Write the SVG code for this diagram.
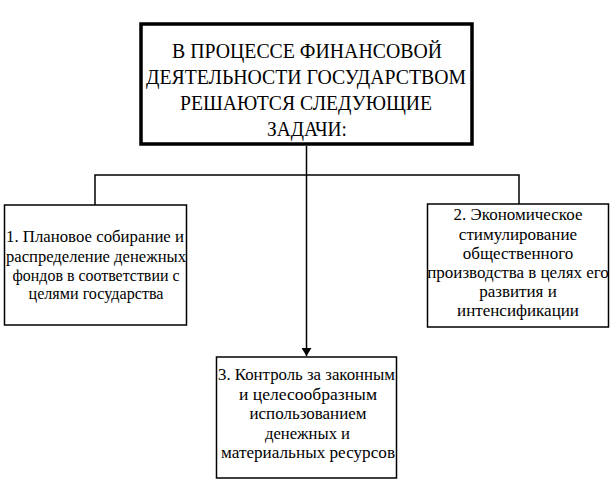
<svg xmlns="http://www.w3.org/2000/svg" width="614" height="484" viewBox="0 0 614 484">
<style>
.box{fill:#fff;stroke:#000;stroke-width:1.5}
.main{fill:#fff;stroke:#000;stroke-width:3.5}
.ln{fill:none;stroke:#000;stroke-width:1.5}
.t1{font-size:21px;fill:#000;text-anchor:middle}
.t2{font-size:17px;fill:#000;text-anchor:middle}
</style>
<defs>
<marker id="arr" markerWidth="8" markerHeight="10" refX="8" refY="5" orient="auto" markerUnits="userSpaceOnUse" viewBox="0 0 8 10">
<path d="M0,0 L8,5 L0,10 z" fill="#000"/>
</marker>
</defs>
<rect width="614" height="484" fill="#fff"/>
<g id="connectors">
<line class="ln" x1="306.5" y1="146" x2="306.5" y2="356" marker-end="url(#arr)"/>
<polyline class="ln" points="95,205 95,175 519,175 519,204"/>
</g>
<g id="top" font-family="'Liberation Serif', 'Times New Roman', Times, serif">
<rect class="main" x="141" y="24" width="331" height="120"/>
<text class="t1" x="307" y="58" textLength="270" lengthAdjust="spacingAndGlyphs">В ПРОЦЕССЕ ФИНАНСОВОЙ</text>
<text class="t1" x="306" y="84" textLength="320" lengthAdjust="spacingAndGlyphs">ДЕЯТЕЛЬНОСТИ ГОСУДАРСТВОМ</text>
<text class="t1" x="306" y="110" textLength="252" lengthAdjust="spacingAndGlyphs">РЕШАЮТСЯ СЛЕДУЮЩИЕ</text>
<text class="t1" x="307" y="136" textLength="80" lengthAdjust="spacingAndGlyphs">ЗАДАЧИ:</text>
</g>
<g id="n1" font-family="'Liberation Serif', 'Times New Roman', Times, serif">
<rect class="box" x="4.5" y="205" width="182" height="120"/>
<text class="t2" x="95" y="242" textLength="178" lengthAdjust="spacingAndGlyphs">1. Плановое собирание и</text>
<text class="t2" x="96" y="262" textLength="180" lengthAdjust="spacingAndGlyphs">распределение денежных</text>
<text class="t2" x="96" y="281" textLength="167" lengthAdjust="spacingAndGlyphs">фондов в соответствии с</text>
<text class="t2" x="96" y="299" textLength="135" lengthAdjust="spacingAndGlyphs">целями государства</text>
</g>
<g id="n2" font-family="'Liberation Serif', 'Times New Roman', Times, serif">
<rect class="box" x="427.5" y="204" width="181" height="123"/>
<text class="t2" x="518" y="220">2. Экономическое</text>
<text class="t2" x="518" y="240">стимулирование</text>
<text class="t2" x="518" y="259">общественного</text>
<text class="t2" x="518" y="278">производства в целях его</text>
<text class="t2" x="518" y="297">развития и</text>
<text class="t2" x="518" y="316">интенсификации</text>
</g>
<g id="n3" font-family="'Liberation Serif', 'Times New Roman', Times, serif">
<rect class="box" x="216.5" y="357" width="180" height="121"/>
<text class="t2" x="306.5" y="380" textLength="177" lengthAdjust="spacingAndGlyphs">3. Контроль за законным</text>
<text class="t2" x="308" y="400" textLength="138" lengthAdjust="spacingAndGlyphs">и целесообразным</text>
<text class="t2" x="308" y="419" textLength="117" lengthAdjust="spacingAndGlyphs">использованием</text>
<text class="t2" x="307.5" y="439" textLength="85" lengthAdjust="spacingAndGlyphs">денежных и</text>
<text class="t2" x="308" y="458" textLength="174" lengthAdjust="spacingAndGlyphs">материальных ресурсов</text>
</g>
</svg>
